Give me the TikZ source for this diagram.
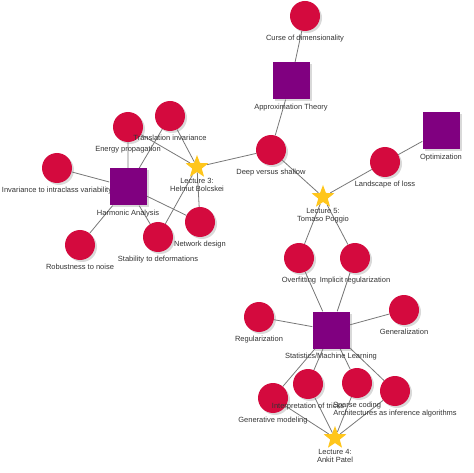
\documentclass[tikz,border=0pt]{standalone}
\usepackage{fontspec}
\setmainfont{Liberation Sans}
\usetikzlibrary{shapes.geometric,shadows,backgrounds}
\definecolor{topicred}{RGB}{212,10,62}
\definecolor{areapurple}{RGB}{128,0,128}
\definecolor{lecgold}{RGB}{255,198,28}
\definecolor{edgegray}{RGB}{120,120,120}

\begin{document}
\begin{tikzpicture}[x=1pt, y=-1pt, every node/.style={font=\fontsize{7.5}{8}\selectfont},
  tag/.style={text=black!80, inner sep=1pt, align=center, yshift=-3pt},
  lectag/.style={tag, yshift=-2pt},
  shade/.style={drop shadow={opacity=0.3, shadow xshift=2pt, shadow yshift=-2pt}},
  topic/.style={circle, fill=topicred, minimum size=30pt, inner sep=0pt, shade},
  area/.style={rectangle, fill=areapurple, minimum size=37pt, inner sep=0pt, shade},
  lecture/.style={star, star points=5, star point ratio=2.4, fill=lecgold, minimum size=24pt, inner sep=0pt},
  link/.style={draw=edgegray, line width=0.8pt}]
  \useasboundingbox (0,0) rectangle (474,473);
  % top branch
  \node[topic, label={[tag]below:Curse of dimensionality}] (curse) at (305,16) {};
  \node[area, label={[tag]below:Approximation Theory}] (approx) at (291,81) {};
  \node[topic, label={[tag]below:Deep versus shallow}] (deep) at (271,150) {};
  \node[area, label={[tag]below:Optimization}] (optim) at (441,131) {};
  \node[topic, label={[tag]below:Landscape of loss}] (loss) at (385,162) {};
  \node[lecture, label={[lectag]below:{Lecture 5:\\Tomaso Poggio}}] (lecfive) at (323,197) {};
  % harmonic analysis
  \node[topic, label={[tag]below:Energy propagation}] (energy) at (128,127) {};
  \node[topic, label={[tag]below:Translation invariance}] (transl) at (170,116) {};
  \node[topic, label={[tag]below:Invariance to intraclass variability}] (intra) at (57,168) {};
  \node[area, label={[tag]below:Harmonic Analysis}] (harmonic) at (128,187) {};
  \node[lecture, label={[lectag]below:{Lecture 3:\\Helmut Bolcskei}}] (lecthree) at (197,167) {};
  \node[topic, label={[tag]below:Robustness to noise}] (noise) at (80,245) {};
  \node[topic, label={[tag]below:Network design}] (netdes) at (200,222) {};
  \node[topic, label={[tag]below:Stability to deformations}] (stab) at (158,237) {};
  % statistics
  \node[topic, label={[tag]below:Overfitting}] (overfit) at (299,258) {};
  \node[topic, label={[tag]below:Implicit regularization}] (implicit) at (355,258) {};
  \node[area, label={[tag]below:Statistics/Machine Learning}] (statml) at (331,330) {};
  \node[topic, label={[tag]below:Regularization}] (regul) at (259,317) {};
  \node[topic, label={[tag]below:Generalization}] (general) at (404,310) {};
  \node[topic, label={[tag]below:Generative modeling}] (genmod) at (273,398) {};
  \node[topic, label={[tag]below:Architectures as inference algorithms}] (archi) at (395,391) {};
  \node[topic, label={[tag]below:Sparse coding}] (sparse) at (357,383) {};
  \node[topic, label={[tag]below:Interpretation of tricks}] (interp) at (308,384) {};
  \node[lecture, label={[lectag]below:{Lecture 4:\\Ankit Patel}}] (lecfour) at (335,438) {};
  \begin{scope}[on background layer]
    \draw[link] (curse) -- (approx) -- (deep);
    \draw[link] (deep) -- (lecthree);
    \draw[link] (deep) -- (lecfive);
    \draw[link] (lecfive) -- (loss) -- (optim);
    \foreach \t in {overfit,implicit} {
      \draw[link] (lecfive) -- (\t) -- (statml);
    }
    \foreach \t in {regul,general} {
      \draw[link] (\t) -- (statml);
    }
    \foreach \t in {genmod,interp,sparse,archi} {
      \draw[link] (statml) -- (\t) -- (lecfour);
    }
    \foreach \t in {transl,energy,netdes,stab} {
      \draw[link] (lecthree) -- (\t) -- (harmonic);
    }
    \foreach \t in {intra,noise} {
      \draw[link] (\t) -- (harmonic);
    }
  \end{scope}
\end{tikzpicture}
\end{document}
